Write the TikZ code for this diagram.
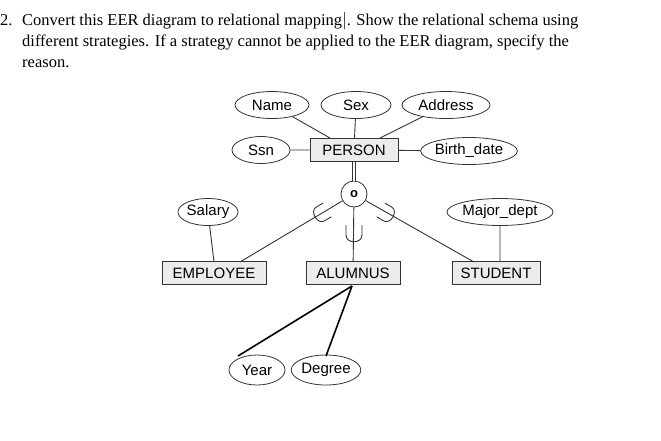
\documentclass[tikz,border=0pt]{standalone}
\usepackage{fontspec}
\setmainfont{Liberation Serif}
\newfontfamily\diag{Liberation Sans}
\usetikzlibrary{shapes.geometric}
\begin{document}
\begin{tikzpicture}[x=1pt,y=-1pt,
  ent/.style={draw,gray!40!black,text=black,fill=gray!15,line width=0.8pt,minimum width=#1,minimum height=23pt,inner sep=0pt,font=\diag\fontsize{15}{17}\selectfont},
  att/.style={draw,gray!40!black,text=black,line width=0.8pt,ellipse,minimum width=#1,minimum height=27pt,inner sep=0pt,font=\diag\fontsize{15}{17}\selectfont},
  ln/.style={draw,gray!40!black,line width=0.9pt}]
\useasboundingbox (0,0) rectangle (661,440);
\node[anchor=north west,align=left,font=\fontsize{16.5}{21}\selectfont,inner sep=0pt] (q) at (0,12)
 {2.~ Convert this EER diagram to relational mapping$|$. Show the relational schema using\\
 \phantom{2.~ }different strategies. If a strategy cannot be applied to the EER diagram, specify the\\
 \phantom{2.~ }reason.};
\node[ent=88pt] (person) at (354,150) {PERSON};
\node[att=74pt] (name) at (272,105) {Name};
\node[att=70pt] (sex) at (356,105) {Sex};
\node[att=88pt] (addr) at (446,105) {Address};
\node[att=58pt] (ssn) at (261,150) {Ssn};
\node[att=88pt] (bd) at (469,151) {Birth\_date};
\node[draw,gray!40!black,text=black,line width=0.8pt,circle,minimum size=26pt,inner sep=0pt,font=\diag\bfseries\fontsize{13}{14}\selectfont] (o) at (354,194) {o};
\node[att=58pt] (sal) at (208,212) {Salary};
\node[att=106pt] (maj) at (500,212) {Major\_dept};
\node[ent=104pt] (emp) at (214,273) {EMPLOYEE};
\node[ent=94pt] (alu) at (353,273) {ALUMNUS};
\node[ent=88pt] (stu) at (496,273) {STUDENT};
\node[att=56pt,minimum height=30pt] (year) at (257,370) {Year};
\node[att=66pt,minimum height=30pt] (deg) at (326,370) {Degree};
\coordinate (ae) at (240,262);
\coordinate (se) at (474,262);
\coordinate (pnw) at (330,138);
\coordinate (pne) at (380,138);
\coordinate (salb) at (214,262);
\coordinate (majb) at (500,225.5);
\coordinate (stut) at (500,262);
\path[ln] (name) -- (pnw) (sex) -- (person) (addr) -- (pne)
  (ssn) -- (person) (bd) -- (person) (sal) -- (salb) (majb) -- (stut)
  (o) -- (ae) (o) -- (alu) (o) -- (se);
\draw[gray!40!black,double,double distance=2pt,line width=0.7pt] (person) -- (o);
\draw[gray!40!black,line width=0.9pt] (331.2,216.8) -- (324.4,220.9) .. controls (317.5,225) and (309.3,211.2) .. (316.2,207.1) -- (323.1,203.1);
\draw[gray!40!black,line width=0.9pt] (376.8,216.8) -- (383.6,220.9) .. controls (390.5,225) and (398.7,211.2) .. (391.8,207.1) -- (384.9,203.1);
\draw[gray!40!black,line width=0.9pt] (346,225) -- (346,235) .. controls (346,244) and (362,244) .. (362,235) -- (362,225);
\coordinate (tip) at (352,286);
\coordinate (yt) at (238,356);
\coordinate (dt) at (326,356);
\draw[line width=1.6pt] (tip) -- (yt);
\draw[line width=1.6pt] (tip) -- (dt);
\end{tikzpicture}
\end{document}
